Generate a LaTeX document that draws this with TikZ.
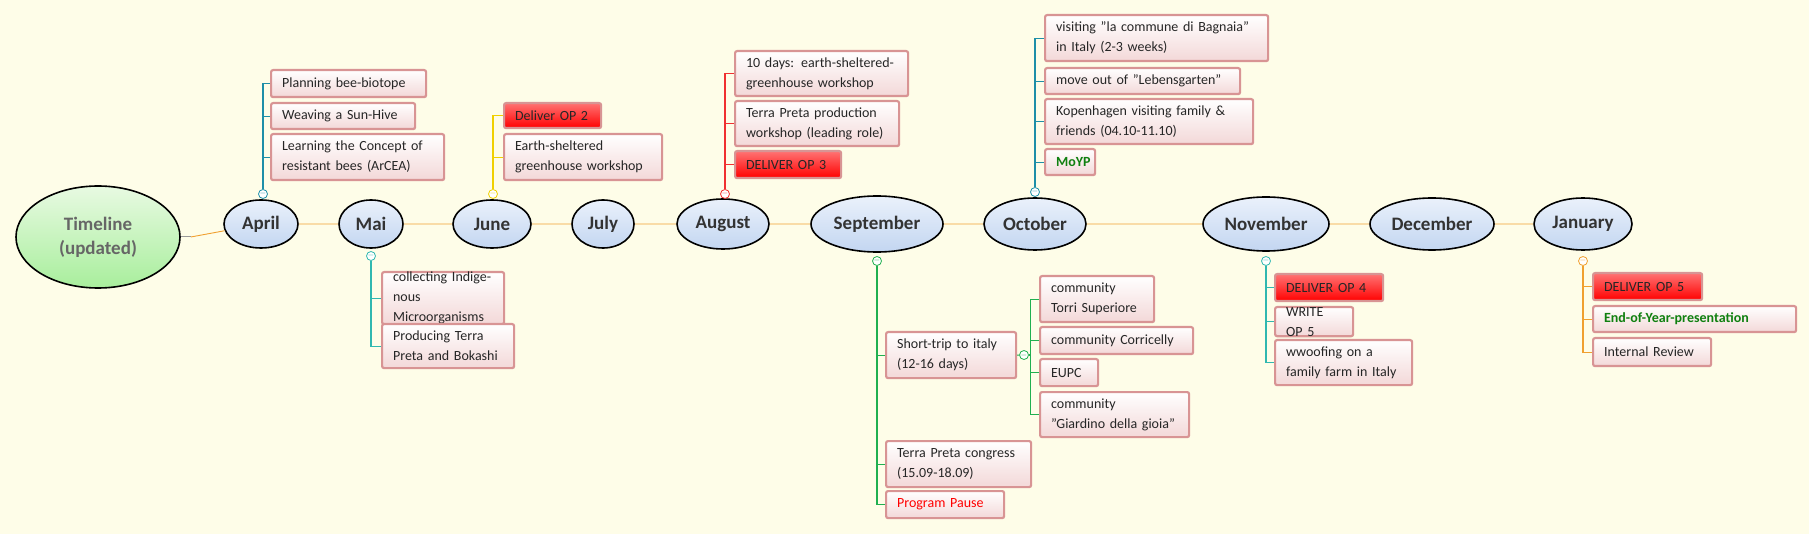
\documentclass[tikz,border=0pt]{standalone}
\usepackage{fontspec}
\setmainfont{Carlito}
\usetikzlibrary{shapes.geometric}
\begin{document}
\begin{tikzpicture}[x=1pt,y=-1pt,
  box/.style={draw=boxb,line width=2.2pt,rounded corners=2pt,top color=white,bottom color=boxp,anchor=north west,inner sep=0pt,align=left,font=\fontsize{14}{20}\selectfont,text=black!85},
  redbox/.style={box,top color=red!55,bottom color=red},
  month/.style={ellipse,draw=black,line width=1.6pt,top color=mtop,bottom color=mbot,inner sep=0pt,font=\fontsize{19}{22}\selectfont\bfseries,text=black!80},
  coll/.style={circle,draw=#1,fill=white,line width=0.8pt,minimum size=9pt,inner sep=0pt,font=\fontsize{8}{8}\selectfont,text=#1},
  br/.style={draw=#1,line width=1.1pt},
  mainl/.style={draw=orangel,line width=0.9pt}]
\definecolor{bg}{HTML}{FEFDE8}
\definecolor{boxb}{HTML}{D89494}
\definecolor{boxp}{HTML}{F3D8D8}
\definecolor{mtop}{HTML}{EAF1FB}
\definecolor{mbot}{HTML}{C3D6F1}
\definecolor{orangel}{HTML}{F0A030}
\definecolor{teal1}{HTML}{1E8FA8}
\definecolor{teal2}{HTML}{30B8B0}
\definecolor{yell}{HTML}{F0D000}
\definecolor{redl}{HTML}{F03030}
\definecolor{grn}{HTML}{20B050}
\definecolor{dgreen}{HTML}{108010}
\definecolor{tgl}{HTML}{E8FAE2}
\definecolor{tgd}{HTML}{A8EE9C}
\fill[bg] (0,0) rectangle (1809,534);
\useasboundingbox (0,0) rectangle (1809,534);
\def\bx#1#2#3#4#5#6#7{\node[#6,minimum width=\dimexpr#4pt-#2pt\relax,minimum height=\dimexpr#5pt-#3pt\relax,text width=\dimexpr#4pt-#2pt-22pt\relax] (#1) at (#2,#3) {#7};}
% months
\node[ellipse,draw=black,line width=1.6pt,top color=tgl,bottom color=tgd,minimum width=164pt,minimum height=102pt,align=center,font=\fontsize{19}{24}\selectfont\bfseries,text=black!60] (T) at (98,237) {Timeline\\(updated)};
\node[month,minimum width=74pt,minimum height=48pt] (apr) at (261,224) {April};
\node[month,minimum width=64pt,minimum height=48pt] (mai) at (371,224) {Mai};
\node[month,minimum width=78pt,minimum height=48pt] (jun) at (492,224) {June};
\node[month,minimum width=62pt,minimum height=48pt] (jul) at (603,224) {July};
\node[month,minimum width=92pt,minimum height=50pt] (aug) at (723,224) {August};
\node[month,minimum width=132pt,minimum height=56pt] (sep) at (877,224) {September};
\node[month,minimum width=102pt,minimum height=52pt] (oct) at (1035,224) {October};
\node[month,minimum width=126pt,minimum height=54pt] (nov) at (1266,224) {November};
\node[month,minimum width=124pt,minimum height=52pt] (dec) at (1432,224) {December};
\node[month,minimum width=98pt,minimum height=52pt] (jan) at (1583,224) {January};
\draw[black!40,line width=1pt] (T.east) -- +(10,0) coordinate (t0);
\draw[mainl] (t0) -- (apr) (apr) -- (mai) (mai) -- (jun) (jun) -- (jul) (jul) -- (aug) (aug) -- (sep) (sep) -- (oct) (oct) -- (nov) (nov) -- (dec) (dec) -- (jan);
% April
\node[coll=teal1] (ca) at (263,194) {$-$};
\bx{a1}{270}{69}{425}{96}{box}{Planning bee-biotope}
\bx{a2}{270}{102}{414}{128}{box}{Weaving a Sun-Hive}
\bx{a3}{270}{133}{443}{179}{box}{Learning the Concept of\\resistant bees (ArCEA)}
\draw[br=teal1] (ca) -- (ca |- a1.west) -- (a1.west) (ca |- a2.west) -- (a2.west) (ca |- a3.west) -- (a3.west);
% Mai
\node[coll=teal2] (cm) at (371,256) {$-$};
\bx{m1}{381}{271}{503}{317}{box}{collecting Indigenous\\Microorganisms}
\bx{m2}{381}{323}{513}{367}{box}{Producing Terra\\Preta and Bokashi}
\draw[br=teal2] (cm) -- (cm |- m2.west) -- (m2.west) (cm |- m1.west) -- (m1.west);
% June
\node[coll=yell] (cj) at (493,194) {$-$};
\bx{j1}{503}{102}{600}{127}{redbox}{Deliver OP 2}
\bx{j2}{503}{133}{661}{179}{box}{Earth-sheltered\\greenhouse workshop}
\draw[br=yell] (cj) -- (cj |- j1.west) -- (j1.west) (cj |- j2.west) -- (j2.west);
% August
\node[coll=redl] (cg) at (725,194) {$-$};
\bx{g1}{734}{50}{907}{95}{box}{10 days: earth-sheltered-\\greenhouse workshop}
\bx{g2}{734}{100}{898}{145}{box}{Terra Preta production\\workshop (leading role)}
\bx{g3}{734}{150}{840}{177}{redbox}{DELIVER OP 3}
\draw[br=redl] (cg) -- (cg |- g1.west) -- (g1.west) (cg |- g2.west) -- (g2.west) (cg |- g3.west) -- (g3.west);
% October
\node[coll=teal1] (co) at (1035,192) {$-$};
\bx{o1}{1044}{14}{1267}{60}{box}{visiting "la commune di Bagnaia"\\in Italy (2-3 weeks)}
\bx{o2}{1044}{67}{1239}{93}{box}{move out of "Lebensgarten"}
\bx{o3}{1044}{98}{1252}{143}{box}{Kopenhagen visiting family \&\\friends (04.10-11.10)}
\bx{o4}{1044}{148}{1094}{174}{box}{\textcolor{dgreen}{\bfseries MoYP}}
\draw[br=teal1] (co) -- (co |- o1.west) -- (o1.west) (co |- o2.west) -- (o2.west) (co |- o3.west) -- (o3.west) (co |- o4.west) -- (o4.west);
% September
\node[coll=grn] (cs) at (877,261) {$-$};
\bx{s1}{885}{331}{1015}{377}{box}{Short-trip to italy\\(12-16 days)}
\bx{s2}{885}{440}{1030}{486}{box}{Terra Preta congress\\(15.09-18.09)}
\bx{s3}{885}{490}{1003}{517}{box}{\textcolor{red}{Program Pause}}
\draw[br=grn] (cs) -- (cs |- s3.west) -- (s3.west) (cs |- s1.west) -- (s1.west) (cs |- s2.west) -- (s2.west);
\node[coll=grn] (cs2) at (1024,355) {$-$};
\bx{t1}{1039}{275}{1153}{321}{box}{community\\Torri Superiore}
\bx{t2}{1039}{326}{1192}{353}{box}{community Corricelly}
\bx{t3}{1039}{358}{1097}{385}{box}{EUPC}
\bx{t4}{1039}{391}{1188}{436}{box}{community\\"Giardino della gioia"}
\draw[br=grn] (s1.east) -- (cs2);
\draw[br=grn] (cs2.east) -- +(2,0) coordinate (sx);
\draw[br=grn] (sx |- t1.west) -- (sx |- t4.west) (sx |- t1.west) -- (t1.west) (sx |- t2.west) -- (t2.west) (sx |- t3.west) -- (t3.west) (sx |- t4.west) -- (t4.west);
% November
\node[coll=teal2] (cn) at (1266,261) {$-$};
\bx{n1}{1274}{273}{1382}{300}{redbox}{DELIVER OP 4}
\bx{n2}{1274}{306}{1352}{333}{box}{WRITE OP 5}
\bx{n3}{1274}{339}{1411}{384}{box}{wwoofing on a\\family farm in Italy}
\draw[br=teal2] (cn) -- (cn |- n3.west) -- (n3.west) (cn |- n1.west) -- (n1.west) (cn |- n2.west) -- (n2.west);
% January
\node[coll=orangel] (cy) at (1583,261) {$-$};
\bx{y1}{1592}{272}{1701}{299}{redbox}{DELIVER OP 5}
\bx{y2}{1592}{305}{1795}{331}{box}{\textcolor{dgreen}{\bfseries End-of-Year-presentation}}
\bx{y3}{1592}{337}{1710}{365}{box}{Internal Review}
\draw[br=orangel] (cy) -- (cy |- y3.west) -- (y3.west) (cy |- y1.west) -- (y1.west) (cy |- y2.west) -- (y2.west);
\end{tikzpicture}
\end{document}
